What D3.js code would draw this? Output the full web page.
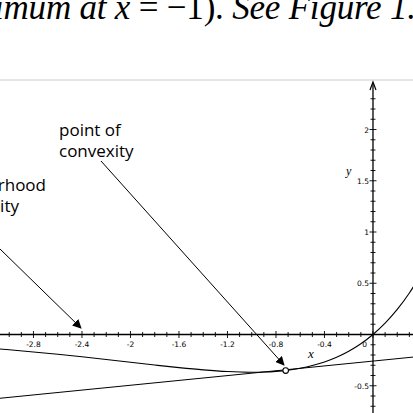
<!DOCTYPE html><html><head><meta charset="utf-8"><script src="https://cdn.jsdelivr.net/npm/d3@7"></script>
<style>body{margin:0;background:#fff}</style></head><body><svg id="c" width="413" height="413"></svg>
<script>
const curveX=[-3.1,-3.0,-2.8,-2.6,-2.4,-2.2,-2.0,-1.8,-1.6,-1.4,-1.2,-1.0,-0.9,-0.8,-0.7,-0.6,-0.5,-0.4,-0.3,-0.2,-0.1,0,0.1,0.2,0.3,0.4];
const curveY=[-0.1397,-0.1494,-0.1703,-0.1931,-0.2177,-0.2438,-0.2707,-0.2975,-0.3230,-0.3452,-0.3614,-0.3679,-0.3659,-0.3595,-0.3476,-0.3293,-0.3033,-0.2681,-0.2222,-0.1637,-0.0905,0,0.1105,0.2443,0.4050,0.5967];
const tangentX=[-3.1,0.35];
const tangentY=[-0.625,-0.218];
const point={x:-0.72,y:-0.352};
const xTickLabels=[-2.8,-2.4,-2,-1.6,-1.2,-0.8,-0.4];
const yTickLabels=[-0.5,0.5,1,1.5,2];

const svg=d3.select("#c");
const x=d3.scaleLinear().domain([-3.076,0.33]).range([0,413]);
const y=d3.scaleLinear().domain([0,2]).range([334.5,129.5]);

svg.append("text").attr("x",-6).attr("y",19).attr("font-family","Liberation Serif, serif").attr("font-size",35).attr("font-style","italic")
 .attr("textLength",422).attr("lengthAdjust","spacing")
 .html('imum at x <tspan font-style="normal">= −1).</tspan> See Figure 1.');
svg.append("line").attr("x1",0).attr("x2",413).attr("y1",80).attr("y2",80).attr("stroke","#ccc").attr("stroke-width",1);

const g=svg.append("g").attr("stroke","#000");
g.append("line").attr("x1",0).attr("x2",413).attr("y1",y(0)).attr("y2",y(0)).attr("stroke-width",1.3);
g.append("line").attr("x1",x(0)).attr("x2",x(0)).attr("y1",84).attr("y2",413).attr("stroke-width",1.3);
svg.append("path").attr("d",`M${x(0)-3},${90} L${x(0)},${82} L${x(0)+3},${90}`).attr("fill","none").attr("stroke","#000").attr("stroke-width",1.2);
d3.range(-30,4).forEach(i=>{const v=i/10;const major=i%4===0;
 g.append("line").attr("x1",x(v)).attr("x2",x(v)).attr("y1",y(0)-(major?3.5:2.5)).attr("y2",y(0)+(major?3.5:2.5)).attr("stroke-width",0.9);});
d3.range(-8,24).forEach(i=>{const v=i/10;const major=i%5===0;
 g.append("line").attr("y1",y(v)).attr("y2",y(v)).attr("x1",x(0)-(major?3.5:2.5)).attr("x2",x(0)+(major?3.5:2.5)).attr("stroke-width",0.9);});
const lab=svg.append("g").attr("font-family","DejaVu Sans, sans-serif").attr("font-size",7.5).attr("fill","#000");
xTickLabels.forEach(v=>lab.append("text").attr("x",x(v)).attr("y",y(0)+12).attr("text-anchor","middle").text(v));
lab.append("text").attr("x",x(0)-6).attr("y",y(0)+12).attr("text-anchor","end").text("0");
yTickLabels.forEach(v=>lab.append("text").attr("x",x(0)-4).attr("y",y(v)+3).attr("text-anchor","end").text(v));
svg.append("text").attr("x",308).attr("y",358).attr("font-family","Liberation Serif, serif").attr("font-style","italic").attr("font-size",13).text("x");
svg.append("text").attr("x",346).attr("y",175).attr("font-family","Liberation Serif, serif").attr("font-style","italic").attr("font-size",12).text("y");

const line=d3.line().x(d=>x(d[0])).y(d=>y(d[1])).curve(d3.curveMonotoneX);
svg.append("path").attr("d",line(d3.zip(curveX,curveY))).attr("fill","none").attr("stroke","#000").attr("stroke-width",1.1);
svg.append("path").attr("d",d3.line()(d3.zip(tangentX,tangentY).map(d=>[x(d[0]),y(d[1])]))).attr("fill","none").attr("stroke","#000").attr("stroke-width",1);
svg.append("circle").attr("cx",x(point.x)).attr("cy",y(point.y)).attr("r",2.8).attr("fill","#fff").attr("stroke","#000").attr("stroke-width",1.1);

const defs=svg.append("defs");
defs.append("marker").attr("id","ah").attr("viewBox","0 0 10 10").attr("refX",9).attr("refY",5).attr("markerWidth",9).attr("markerHeight",9).attr("markerUnits","userSpaceOnUse").attr("orient","auto")
 .append("path").attr("d","M0,0 L10,5 L0,10 z").attr("fill","#000");
svg.append("line").attr("x1",0).attr("y1",249).attr("x2",81).attr("y2",328).attr("stroke","#000").attr("marker-end","url(#ah)");
svg.append("line").attr("x1",101).attr("y1",161).attr("x2",284).attr("y2",365).attr("stroke","#000").attr("marker-end","url(#ah)");
const ann=svg.append("g").attr("font-family","Open Sans, sans-serif").attr("font-size",17).attr("fill","#000");
ann.append("text").attr("x",59).attr("y",136).text("point of");
ann.append("text").attr("x",59).attr("y",157).text("convexity");
ann.append("text").attr("x",46).attr("y",191).attr("text-anchor","end").text("neighborhood");
ann.append("text").attr("x",19).attr("y",212).attr("text-anchor","end").text("of convexity");
</script></body></html>
